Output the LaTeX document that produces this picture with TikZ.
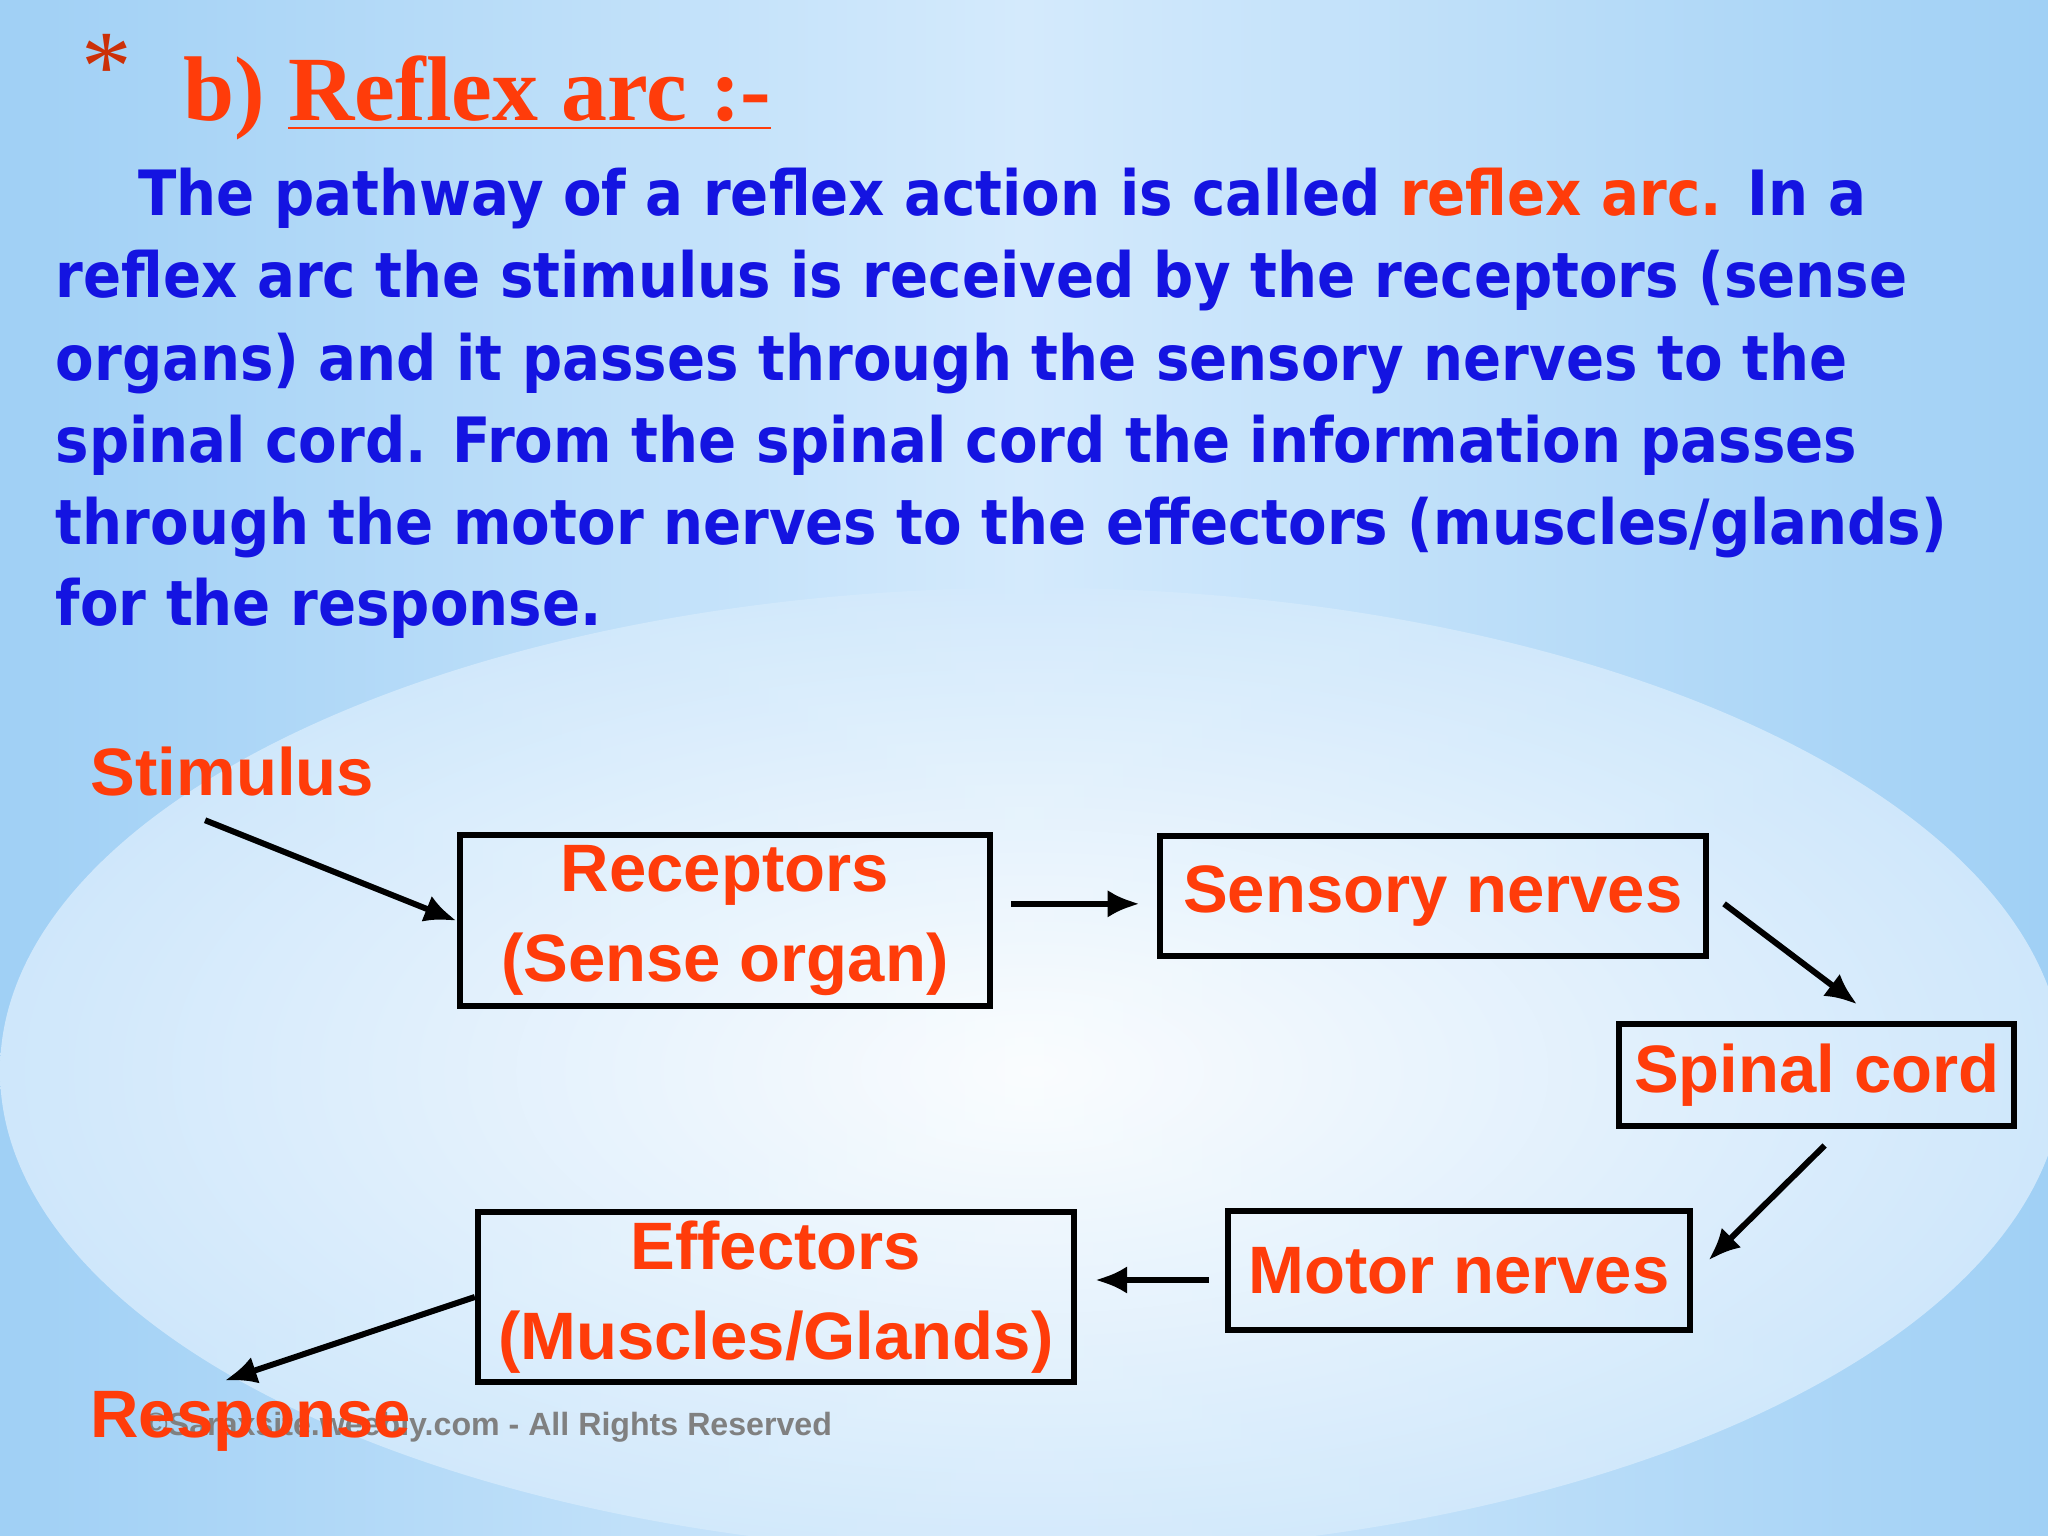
\documentclass[tikz,border=0pt]{standalone}
\usepackage{fontspec}
\setmainfont{Liberation Sans}
\newfontfamily\bodyfont{DejaVu Sans Condensed}
\newfontfamily\titlefont{Liberation Serif}
\usetikzlibrary{arrows.meta}
\definecolor{Blu}{RGB}{20,20,225}
\definecolor{Org}{RGB}{255,60,10}
\definecolor{SkyL}{RGB}{160,208,245}
\definecolor{SkyM}{RGB}{212,234,252}
\begin{document}
\begin{tikzpicture}[x=0.01cm,y=-0.01cm,
    box/.style={draw=black, line width=1.3pt, text=Org, font=\fontsize{14.6}{17.5}\selectfont\bfseries, align=center, inner sep=0pt},
    lab/.style={text=Org, font=\fontsize{14.6}{17.5}\selectfont\bfseries},
    line/.style={anchor=base west, text=Blu, font=\bodyfont\fontsize{13.6}{17}\selectfont\bfseries, inner sep=0pt},
    arr/.style={-{Latex[length=7pt,width=6pt]}, line width=1.3pt}]
    % Background
    \useasboundingbox (0,0) rectangle (1568,1176);
    \shade[left color=SkyL, right color=SkyL, middle color=SkyM] (0,0) rectangle (1568,1176);
    \shade[inner color=white, outer color=SkyM, opacity=0.9] (790,820) ellipse (790 and 370);

    % Heading
    \node[text=Org!80!black, font=\titlefont\fontsize{22}{22}\selectfont] (star) at (82,52) {*};
    \node[anchor=base west, text=Org, font=\titlefont\fontsize{20}{24}\selectfont\bfseries, inner sep=0pt] (title) at (140,92) {b) \underline{Reflex arc :-}};

    % Paragraph
    \node[line] (l1) at (105,165) {The pathway of a reflex action is called \textcolor{Org}{reflex arc.} In a};
    \node[line] (l2) at (42,228) {reflex arc the stimulus is received by the receptors (sense};
    \node[line] (l3) at (42,291) {organs) and it passes through the sensory nerves to the};
    \node[line] (l4) at (42,354) {spinal cord. From the spinal cord the information passes};
    \node[line] (l5) at (42,417) {through the motor nerves to the effectors (muscles/glands)};
    \node[line] (l6) at (42,479) {for the response.};

    % Boxes
    \node[box, minimum width=4.06cm, minimum height=1.31cm] (rec) at (555,705) {Receptors\\[2pt](Sense organ)};
    \node[box, minimum width=4.18cm, minimum height=0.92cm] (sens) at (1097,686) {Sensory nerves};
    \node[box, minimum width=3.02cm, minimum height=0.78cm] (spin) at (1391,823) {Spinal cord};
    \node[box, minimum width=3.54cm, minimum height=0.91cm] (mot) at (1117,973) {Motor nerves};
    \node[box, minimum width=4.56cm, minimum height=1.30cm] (eff) at (594,993) {Effectors\\[2pt](Muscles/Glands)};
    \node[anchor=base west, text=gray, font=\fontsize{7}{9}\selectfont\bfseries] (copy) at (98,1099) {\copyright Saraxsite.weebly.com - All Rights Reserved};
    \node[lab] (stim) at (178,591) {Stimulus};
    \node[lab] (resp) at (192,1088) {Response};

    % Free ends
    \coordinate (s1) at (157,628);
    \coordinate (s2) at (1320,692);
    \coordinate (s3) at (1422,769);
    \coordinate (s4) at (1397,877);
    \coordinate (s5) at (1308,965);
    \coordinate (s6) at (172,1057);

    % Connectors
    \draw[arr] (s1) -- (rec.west);
    \draw[arr, shorten <=0.14cm, shorten >=0.13cm] (rec.east |- 0,692) -- (sens.west |- 0,692);
    \draw[arr] (s2) -- (s3);
    \draw[arr] (s4) -- (s5);
    \draw[arr, shorten <=0.12cm, shorten >=0.14cm] (mot.west |- 0,980) -- (eff.east |- 0,980);
    \draw[arr] (eff.west) -- (s6);
\end{tikzpicture}
\end{document}
